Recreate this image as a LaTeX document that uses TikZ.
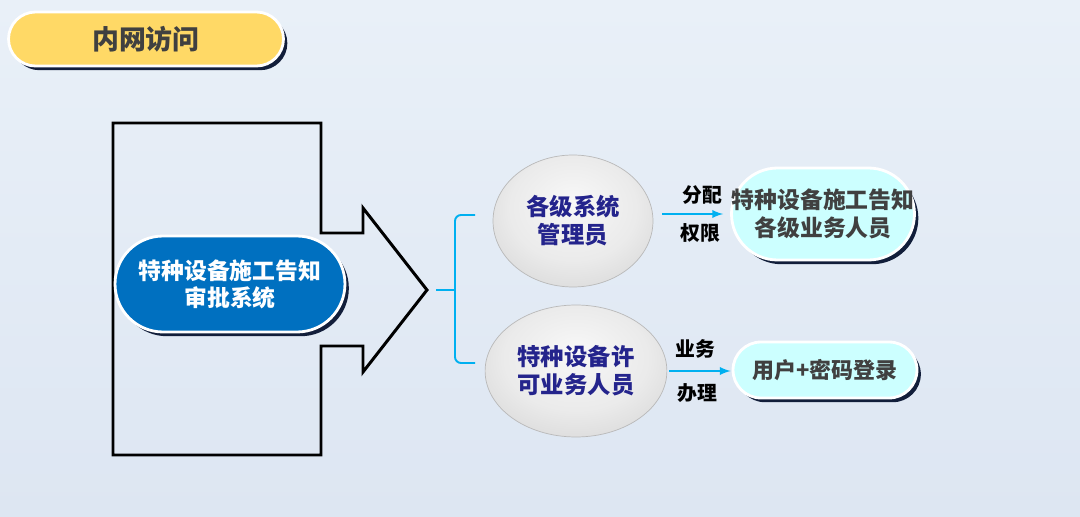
\documentclass[tikz,border=0pt]{standalone}
\usepackage{fontspec}
\newfontfamily\cjk{Noto Sans CJK SC}
\usetikzlibrary{arrows,calc,shapes.misc,shapes.geometric,shadows}

\definecolor{bgtop}{RGB}{233,240,248}
\definecolor{bgbottom}{RGB}{221,230,242}
\definecolor{titleyellow}{RGB}{255,217,102}
\definecolor{shadownavy}{RGB}{18,30,58}
\definecolor{systemblue}{RGB}{0,112,192}
\definecolor{bracecyan}{RGB}{0,176,240}
\definecolor{pillcyan}{RGB}{204,255,255}
\definecolor{inknavy}{RGB}{36,36,140}
\definecolor{inkgray}{RGB}{64,64,64}

\pgfdeclareradialshading{bubbleshade}{\pgfpoint{0bp}{8bp}}{color(0bp)=(gray!6); color(20bp)=(gray!16); color(38bp)=(gray!36); color(50bp)=(gray!65)}

\begin{document}
\begin{tikzpicture}[x=0.02cm,y=-0.02cm]
    \tikzstyle{every node}=[font=\cjk\bfseries]
    \tikzstyle{pill}=[rounded rectangle, draw=white, line width=1.6pt, inner sep=0pt, align=center,
        drop shadow={shadow xshift=2.2pt, shadow yshift=-2.4pt, fill=shadownavy, opacity=1}]
    \tikzstyle{bubble}=[ellipse, draw=gray!55, line width=0.4pt, shading=bubbleshade, align=center,
        text=inknavy, font=\cjk\bfseries\fontsize{13.3}{16}\selectfont]
    \tikzstyle{flow}=[-latex, bracecyan, line width=1.1pt]
    \tikzstyle{flowlabel}=[font=\cjk\bfseries\fontsize{11.3}{13}\selectfont, text=black]

      % background
      \shade[top color=bgtop, bottom color=bgbottom] (0,0) rectangle (1080,517);
      \useasboundingbox (0,0) rectangle (1080,517);

      % title
      \node[pill, fill=titleyellow, minimum width=5.5cm, minimum height=1.08cm, text=inkgray,
        font=\cjk\bfseries\fontsize{15.3}{18}\selectfont] (title) at (146,39) {内网访问};

      % big arrow outline
      \coordinate (tip) at (427,290);
      \draw[line width=1.7pt, line join=miter] (113,123) -- (321,123) -- (321,233) -- (363,233)
        -- (363,208) -- (tip) -- (363,372) -- (363,346) -- (321,346) -- (321,455)
        -- (113,455) -- cycle;

      % system
      \node[pill, fill=systemblue, minimum width=4.6cm, minimum height=1.92cm, text=white,
        font=\cjk\bfseries\fontsize{13}{15.3}\selectfont] (system) at (230,284)
        {特种设备施工告知\\审批系统};

      % brace
      \coordinate (fork) at (455,290);
      \draw[bracecyan, line width=1.1pt] (436,290) -- (fork);
      \draw[bracecyan, line width=1.1pt, rounded corners=0.12cm]
        (475,215) -- (455,215) -- (455,363) -- (475,363);

      % user groups
      \node[bubble, minimum width=3.2cm, minimum height=2.64cm] (admin) at (573,221)
        {各级系统\\管理员};
      \node[bubble, minimum width=3.24cm, minimum height=2.64cm] (licensee) at (576,371)
        {特种设备许\\可业务人员};

      % results
      \node[pill, fill=pillcyan, minimum width=3.66cm, minimum height=1.84cm] (staff) at (823,214) {};
      \node[text=inkgray, align=center, font=\cjk\bfseries\fontsize{13}{16}\selectfont]
        (stafftext) at (staff.center) {特种设备施工告知\\各级业务人员};

      \node[pill, fill=pillcyan, minimum width=3.68cm, minimum height=1.12cm, text=inkgray,
        font=\cjk\bfseries\fontsize{12.5}{15}\selectfont] (login) at (825,370) {用户+密码登录};

      % flows
      \draw[flow, shorten <=0.18cm, shorten >=0.14cm] (staff.west -| admin.east) -- (staff.west);
      \draw[flow, shorten <=0.04cm, shorten >=0.02cm] (licensee.east) -- (licensee.east -| login.west);

      % flow labels
      \node[flowlabel] (assign) at (702,195) {分配};
      \node[flowlabel] (rights) at (700,233) {权限};
      \node[flowlabel] (business) at (695,349) {业务};
      \node[flowlabel] (handle) at (697,393) {办理};

    \end{tikzpicture}
\end{document}
